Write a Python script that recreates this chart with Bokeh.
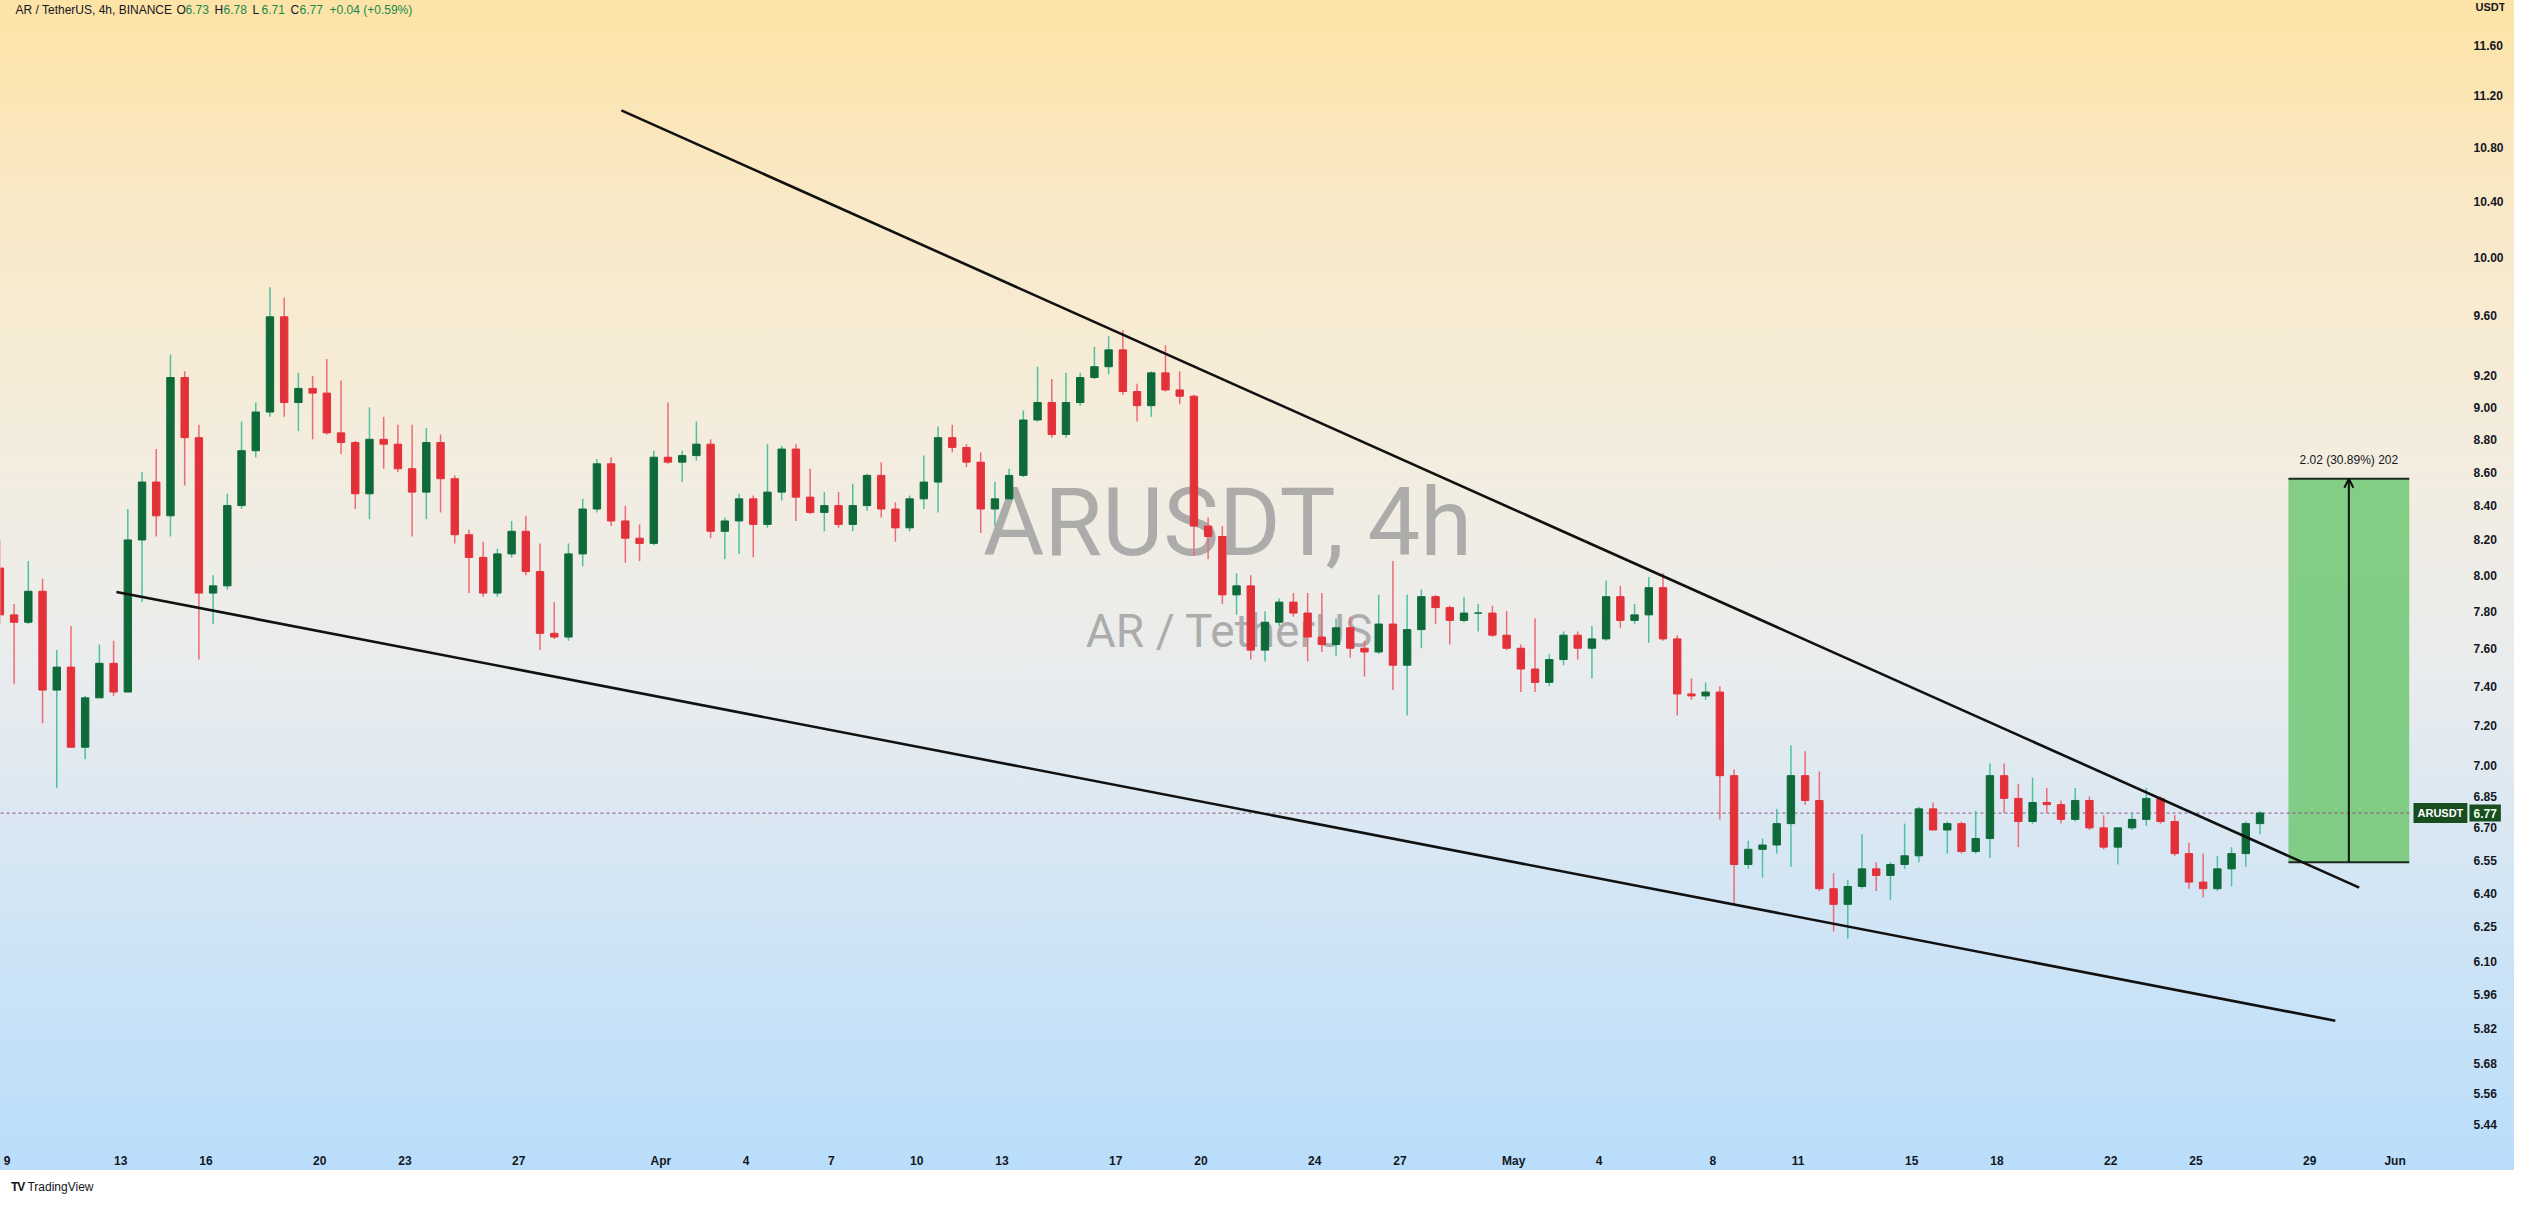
import pandas as pd
from bokeh.plotting import figure
from bokeh.models import (Range1d, FixedTicker, NumeralTickFormatter, Label,
                          Arrow, OpenHead, Div, ColumnDataSource)
from bokeh.layouts import column
from bokeh.embed import file_html
from bokeh.resources import INLINE

# ---------------- data (12h candles) ----------------
candle_start = "2023-03-08 12:00"
candle_hours = 12

opens = [8.04, 7.78, 7.74, 7.91, 7.38, 7.50, 7.09, 7.34, 7.52, 7.37,
         8.20, 8.54, 8.34, 9.19, 8.81, 7.90, 7.94, 8.40, 8.73, 8.97,
         9.59, 9.03, 9.12, 9.09, 8.84, 8.78, 8.47, 8.80, 8.77, 8.62,
         8.48, 8.78, 8.56, 8.23, 8.10, 7.90, 8.12, 8.25, 8.02, 7.68,
         7.66, 8.12, 8.38, 8.65, 8.31, 8.21, 8.18, 8.69, 8.66, 8.70,
         8.77, 8.25, 8.31, 8.44, 8.29, 8.48, 8.74, 8.45, 8.36, 8.40,
         8.29, 8.40, 8.58, 8.38, 8.27, 8.44, 8.54, 8.81, 8.75, 8.66,
         8.38, 8.44, 8.58, 8.92, 9.03, 8.83, 9.03, 9.19, 9.26, 9.37,
         9.10, 9.01, 9.22, 9.11, 9.07, 8.28, 8.22, 7.89, 7.94, 7.59,
         7.74, 7.85, 7.79, 7.66, 7.62, 7.71, 7.60, 7.58, 7.73, 7.51,
         7.70, 7.88, 7.82, 7.75, 7.79, 7.79, 7.67, 7.60, 7.49, 7.42,
         7.54, 7.67, 7.60, 7.65, 7.88, 7.75, 7.78, 7.93, 7.65, 7.36,
         7.35, 7.37, 6.95, 6.53, 6.60, 6.62, 6.72, 6.95, 6.83, 6.42,
         6.35, 6.43, 6.51, 6.48, 6.53, 6.57, 6.79, 6.69, 6.72, 6.59,
         6.65, 6.95, 6.84, 6.73, 6.82, 6.81, 6.74, 6.83, 6.70, 6.61,
         6.70, 6.74, 6.84, 6.73, 6.58, 6.45, 6.42, 6.51, 6.58, 6.72]

highs = [8.20, 7.84, 8.08, 7.98, 7.59, 7.72, 7.35, 7.62, 7.64, 8.38,
         8.60, 8.74, 9.34, 9.23, 8.89, 8.00, 8.47, 8.91, 9.03, 9.79,
         9.72, 9.22, 9.20, 9.31, 9.17, 8.79, 9.00, 8.94, 8.89, 8.89,
         8.87, 8.83, 8.58, 8.26, 8.19, 8.15, 8.31, 8.34, 8.18, 7.85,
         8.18, 8.44, 8.68, 8.69, 8.40, 8.29, 8.73, 9.03, 8.73, 8.91,
         8.80, 8.33, 8.47, 8.46, 8.77, 8.76, 8.77, 8.62, 8.48, 8.48,
         8.53, 8.59, 8.66, 8.42, 8.46, 8.70, 8.88, 8.89, 8.77, 8.72,
         8.54, 8.62, 8.98, 9.26, 9.18, 9.22, 9.22, 9.39, 9.46, 9.50,
         9.15, 9.23, 9.40, 9.23, 9.08, 8.33, 8.28, 8.01, 8.00, 7.80,
         7.87, 7.90, 7.90, 7.90, 7.76, 7.77, 7.64, 7.89, 8.08, 7.89,
         7.92, 7.89, 7.83, 7.88, 7.84, 7.83, 7.80, 7.62, 7.76, 7.57,
         7.69, 7.69, 7.72, 7.97, 7.94, 7.84, 7.99, 8.01, 7.67, 7.44,
         7.42, 7.40, 6.98, 6.64, 6.65, 6.79, 7.10, 7.07, 6.97, 6.49,
         6.46, 6.67, 6.54, 6.54, 6.72, 6.80, 6.82, 6.73, 6.73, 6.78,
         7.01, 7.01, 6.91, 6.94, 6.89, 6.83, 6.89, 6.85, 6.76, 6.70,
         6.77, 6.89, 6.85, 6.76, 6.63, 6.58, 6.57, 6.61, 6.73, 6.78]

lows = [7.73, 7.41, 7.73, 7.21, 6.89, 7.09, 7.03, 7.34, 7.35, 7.37,
        7.85, 8.22, 8.22, 8.52, 7.54, 7.73, 7.92, 8.38, 8.69, 8.94,
        8.94, 8.85, 8.80, 8.83, 8.71, 8.38, 8.32, 8.62, 8.60, 8.22,
        8.32, 8.36, 8.18, 7.90, 7.88, 7.88, 8.10, 8.00, 7.59, 7.65,
        7.64, 8.05, 8.36, 8.28, 8.07, 8.08, 8.17, 8.65, 8.54, 8.67,
        8.21, 8.09, 8.12, 8.10, 8.27, 8.43, 8.31, 8.35, 8.25, 8.27,
        8.25, 8.37, 8.33, 8.19, 8.25, 8.38, 8.36, 8.72, 8.63, 8.24,
        8.28, 8.43, 8.57, 8.91, 8.81, 8.81, 9.01, 9.18, 9.21, 9.08,
        8.91, 8.94, 9.10, 9.02, 8.11, 8.09, 7.84, 7.78, 7.54, 7.53,
        7.72, 7.77, 7.53, 7.58, 7.56, 7.55, 7.45, 7.57, 7.38, 7.25,
        7.60, 7.73, 7.62, 7.74, 7.69, 7.66, 7.59, 7.37, 7.37, 7.40,
        7.51, 7.54, 7.44, 7.64, 7.71, 7.73, 7.63, 7.64, 7.25, 7.33,
        7.33, 6.74, 6.35, 6.51, 6.47, 6.58, 6.52, 6.81, 6.41, 6.23,
        6.20, 6.42, 6.41, 6.37, 6.51, 6.54, 6.69, 6.58, 6.58, 6.58,
        6.56, 6.77, 6.61, 6.72, 6.77, 6.72, 6.73, 6.69, 6.60, 6.53,
        6.69, 6.71, 6.72, 6.57, 6.42, 6.38, 6.41, 6.43, 6.52, 6.67]

closes = opens[1:] + [6.77]

date_ticks = ["2023-03-09", "2023-03-13", "2023-03-16", "2023-03-20", "2023-03-23",
              "2023-03-27", "2023-04-01", "2023-04-04", "2023-04-07", "2023-04-10",
              "2023-04-13", "2023-04-17", "2023-04-20", "2023-04-24", "2023-04-27",
              "2023-05-01", "2023-05-04", "2023-05-08", "2023-05-11", "2023-05-15",
              "2023-05-18", "2023-05-22", "2023-05-25", "2023-05-29", "2023-06-01"]
date_labels = ["9", "13", "16", "20", "23", "27", "Apr", "4", "7", "10", "13", "17",
               "20", "24", "27", "May", "4", "8", "11", "15", "18", "22", "25", "29", "Jun"]

price_ticks = [11.60, 11.20, 10.80, 10.40, 10.00, 9.60, 9.20, 9.00, 8.80, 8.60, 8.40,
               8.20, 8.00, 7.80, 7.60, 7.40, 7.20, 7.00, 6.85, 6.70, 6.55, 6.40, 6.25,
               6.10, 5.96, 5.82, 5.68, 5.56, 5.44]

upper_line_times = ["2023-03-30 14:38", "2023-05-30 17:46"]
upper_line_prices = [11.085, 6.425]
lower_line_times = ["2023-03-12 20:24", "2023-05-29 21:36"]
lower_line_prices = [7.906, 5.852]

proj_times = ["2023-05-28 06:00", "2023-06-01 12:00"]
proj_base = 6.54
proj_move = 2.02
proj_pct = 30.89
proj_bars = 202

last_price = 6.77
header_symbol = "AR / TetherUS, 4h, BINANCE"
header_ohlc = [("O", "6.73"), ("H", "6.78"), ("L", "6.71"), ("C", "6.77")]
header_change = "+0.04 (+0.59%)"

# ---------------- helpers ----------------
origin = pd.Timestamp("2023-03-09")


def days(t):
    return (pd.Timestamp(t) - origin) / pd.Timedelta("1D")


times = pd.date_range(candle_start, periods=len(closes), freq=f"{candle_hours}h")
half = candle_hours / 48.0
xs = [(t - origin) / pd.Timedelta("1D") + half for t in times]

up = [c >= o for o, c in zip(opens, closes)]
src_up = ColumnDataSource(dict(
    x=[x for x, u in zip(xs, up) if u],
    top=[c for c, u in zip(closes, up) if u],
    bottom=[o for o, u in zip(opens, up) if u],
    high=[h for h, u in zip(highs, up) if u],
    low=[l for l, u in zip(lows, up) if u]))
src_dn = ColumnDataSource(dict(
    x=[x for x, u in zip(xs, up) if not u],
    top=[o for o, u in zip(opens, up) if not u],
    bottom=[c for c, u in zip(closes, up) if not u],
    high=[h for h, u in zip(highs, up) if not u],
    low=[l for l, u in zip(lows, up) if not u]))

# ---------------- figure ----------------
FONT = "Liberation Sans"
TXT = "#131722"

# frame spans the whole width; the price scale is drawn over its right edge
p = figure(width=2514, height=1170,
           x_range=Range1d(-0.2286, 87.85), y_range=Range1d(5.3765, 11.973),
           y_axis_type="log", y_axis_location="right",
           output_backend="svg", toolbar_location=None,
           min_border_left=0, min_border_top=0, min_border_right=10, min_border_bottom=28)
p.outline_line_color = None
p.background_fill_alpha = 0
p.border_fill_alpha = 0
p.grid.visible = False
p.styles = {"background": "linear-gradient(to bottom, #fde3a6 0%, #f9e9c8 18%, "
                          "#f3ede0 40%, #e9ecee 58%, #d1e5f5 78%, #b9ddfb 100%)"}

for ax in (p.xaxis[0], p.yaxis[0]):
    ax.axis_line_color = None
    ax.major_tick_line_color = None
    ax.minor_tick_line_color = None
    ax.major_label_text_font = FONT
    ax.major_label_text_font_size = "12px"
    ax.major_label_text_font_style = "bold"
    ax.major_label_text_color = TXT

tick_x = [days(d) for d in date_ticks]
p.xaxis.ticker = FixedTicker(ticks=tick_x)
p.xaxis.major_label_overrides = {x: lab for x, lab in zip(tick_x, date_labels)}
p.xaxis.major_label_standoff = 6

p.yaxis.ticker = FixedTicker(ticks=price_ticks)
p.yaxis.formatter = NumeralTickFormatter(format="0.00")
p.yaxis.major_label_standoff = -37

# watermark (behind candles)
p.add_layout(Label(x=1227, y=619, x_units="screen", y_units="screen", text="ARUSDT, 4h",
                   text_font="Roboto", text_font_size="94px", text_color="#9b9b9b",
                   text_alpha=0.8, text_align="center", text_baseline="middle",
                   level="underlay"))
p.add_layout(Label(x=1229, y=511, x_units="screen", y_units="screen", text="AR / TetherUS",
                   text_font="Roboto", text_font_size="46px", text_color="#9b9b9b",
                   text_alpha=0.8, text_align="center", text_baseline="middle",
                   level="underlay"))

# projection box
x0, x1 = days(proj_times[0]), days(proj_times[1])
xm = (x0 + x1) / 2
proj_top = proj_base + proj_move
p.quad(left=x0, right=x1, bottom=proj_base, top=proj_top,
       fill_color="#7ccb80", fill_alpha=0.95, line_color=None)
p.segment(x0=[x0, x0], x1=[x1, x1], y0=[proj_base, proj_top], y1=[proj_base, proj_top],
          line_color="#1d2b1d", line_width=2)
p.add_layout(Arrow(x_start=xm, y_start=proj_base, x_end=xm, y_end=proj_top,
                   line_color="#111111", line_width=2,
                   end=OpenHead(size=9, line_width=2, line_color="#111111")))
p.add_layout(Label(x=xm, y=proj_top, y_offset=12, text=f"{proj_move:.2f} ({proj_pct:.2f}%) {proj_bars}",
                   text_font=FONT, text_font_size="12px", text_color=TXT,
                   text_align="center", text_baseline="bottom"))

# last price line (ends at the price scale)
p.segment(x0=[-0.2286], x1=[days(proj_times[1])], y0=[last_price], y1=[last_price],
          line_color="#8a4f80", line_dash="3 3", line_width=1.2, line_alpha=0.8)

# candles
p.segment(x0="x", x1="x", y0="high", y1="low", source=src_up, line_color="#4cc2a0", line_width=1.5)
p.segment(x0="x", x1="x", y0="high", y1="low", source=src_dn, line_color="#ee6b76", line_width=1.5)
p.vbar(x="x", width=0.26, top="top", bottom="bottom", source=src_up,
       fill_color="#0f6a3a", line_color="#0f6a3a")
p.vbar(x="x", width=0.26, top="top", bottom="bottom", source=src_dn,
       fill_color="#e3313a", line_color="#e3313a")

# trend lines
p.line([days(t) for t in upper_line_times], upper_line_prices, line_color="#111111", line_width=2.6)
p.line([days(t) for t in lower_line_times], lower_line_prices, line_color="#111111", line_width=2.6)

# symbol / price tags
p.add_layout(Label(x=2413, y=last_price, x_units="screen", text="ARUSDT",
                   text_font=FONT, text_font_size="11px", text_font_style="bold",
                   text_color="#ffffff", text_baseline="middle",
                   background_fill_color="#174d1f", padding=4))
p.add_layout(Label(x=2469, y=last_price, x_units="screen", text=f"{last_price:.2f}",
                   text_font=FONT, text_font_size="12px", text_font_style="bold",
                   text_color="#e8ffe8", text_baseline="middle",
                   background_fill_color="#174d1f", padding=4))
p.add_layout(Label(x=2475, y=1135, x_units="screen", y_units="screen", text="USDT",
                   text_font=FONT, text_font_size="11px", text_font_style="bold",
                   text_color=TXT, text_baseline="middle"))

# header
hy = 1132
p.add_layout(Label(x=15, y=hy, x_units="screen", y_units="screen", text=header_symbol,
                   text_font=FONT, text_font_size="12px", text_color=TXT, text_baseline="middle"))
hx = 176
for key, val in header_ohlc:
    p.add_layout(Label(x=hx, y=hy, x_units="screen", y_units="screen", text=key,
                       text_font=FONT, text_font_size="12px", text_color=TXT, text_baseline="middle"))
    p.add_layout(Label(x=hx + 9, y=hy, x_units="screen", y_units="screen", text=val,
                       text_font=FONT, text_font_size="12px", text_color="#138a4b",
                       text_baseline="middle"))
    hx += 38
p.add_layout(Label(x=hx + 1, y=hy, x_units="screen", y_units="screen", text=header_change,
                   text_font=FONT, text_font_size="12px", text_color="#138a4b",
                   text_baseline="middle"))

footer = Div(text='<span style="font-weight:900;letter-spacing:-1px">TV</span> TradingView',
             width=2514, height=24,
             styles={"font-family": "Liberation Sans", "font-size": "12px",
                     "color": "#131722", "padding-left": "6px", "padding-top": "4px"})

layout = column(p, footer)
open("out.html", "w").write(file_html(layout, INLINE))
